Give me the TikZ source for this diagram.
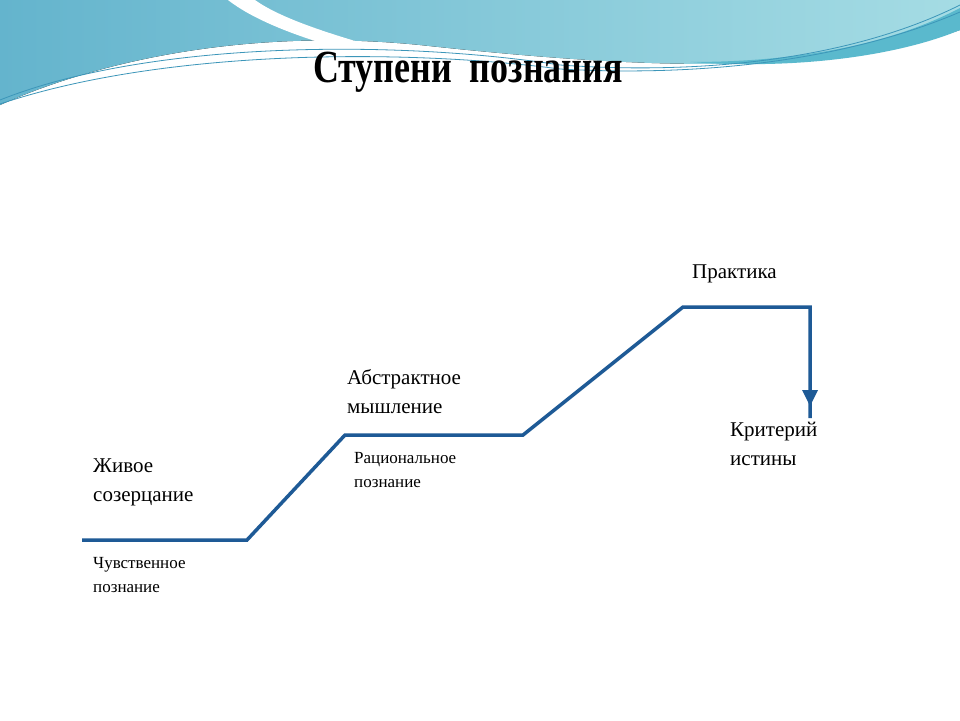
\documentclass[tikz,border=0pt]{standalone}
\usepackage{fontspec}
\setmainfont{Liberation Serif}
\definecolor{stepblue}{RGB}{30,90,150}
\definecolor{tealA}{RGB}{100,180,205}
\definecolor{tealB}{RGB}{165,220,228}
\definecolor{tealC}{RGB}{90,185,205}
\definecolor{tealL}{RGB}{60,150,185}
\begin{document}
\begin{tikzpicture}[x=1pt,y=-1pt,
  stepline/.style={line width=3.5pt,draw=stepblue},
  lbl/.style={font=\fontsize{21}{29}\selectfont,align=left,anchor=north west,inner sep=0pt},
  sub/.style={font=\fontsize{17}{24}\selectfont,align=left,anchor=north west,inner sep=0pt}]
\useasboundingbox (0,0) rectangle (960,720);
\fill[white] (0,0) rectangle (960,720);
% background waves
\fill[left color=tealA, right color=tealB]
  (0,0) -- (960,0) -- (960,30) .. controls (820,75) and (650,70) .. (420,45) .. controls (250,28) and (100,60) .. (0,105) -- cycle;
\fill[white] (228,0) .. controls (260,25) and (320,45) .. (385,60) -- (405,55) .. controls (330,35) and (280,18) .. (255,0) -- cycle;
\fill[tealC] (960,8) .. controls (880,50) and (780,62) .. (690,62) .. controls (800,70) and (900,55) .. (960,30) -- cycle;
\draw[tealL,line width=0.8pt] (0,100) .. controls (150,40) and (400,40) .. (560,65) .. controls (700,75) and (850,60) .. (960,5);
\draw[tealL,line width=0.8pt] (0,104) .. controls (160,50) and (400,48) .. (560,69) .. controls (720,78) and (860,55) .. (960,12);
% title
\node[font=\fontsize{40}{44}\selectfont\bfseries,inner sep=0pt,xscale=0.9,yscale=1.15] (title) at (468,72) {Ступени\ \ познания};
% staircase
\coordinate (a) at (82,540);
\coordinate (b) at (247,540);
\coordinate (c) at (345,435);
\coordinate (d) at (523,435);
\coordinate (e) at (683,307);
\coordinate (f) at (810,307);
\coordinate (g) at (810,406);
\draw[stepline,line join=miter] (a) -- (b) -- (c) -- (d) -- (e) -- (f) -- ([yshift=-12]g);
\fill[stepblue] (g) -- ++(-8,-16) -- ++(16,0) -- cycle;
% labels
\node[lbl] (l1) at (93,459) {Живое\\созерцание};
\node[sub] (s1) at (93,557) {Чувственное\\познание};
\node[lbl] (l2) at (347,369) {Абстрактное\\мышление};
\node[sub] (s2) at (354,452) {Рациональное\\познание};
\node[lbl] (l3) at (692,265) {Практика};
\node[lbl] (l4) at (730,422) {Критерий\\истины};
\end{tikzpicture}
\end{document}
